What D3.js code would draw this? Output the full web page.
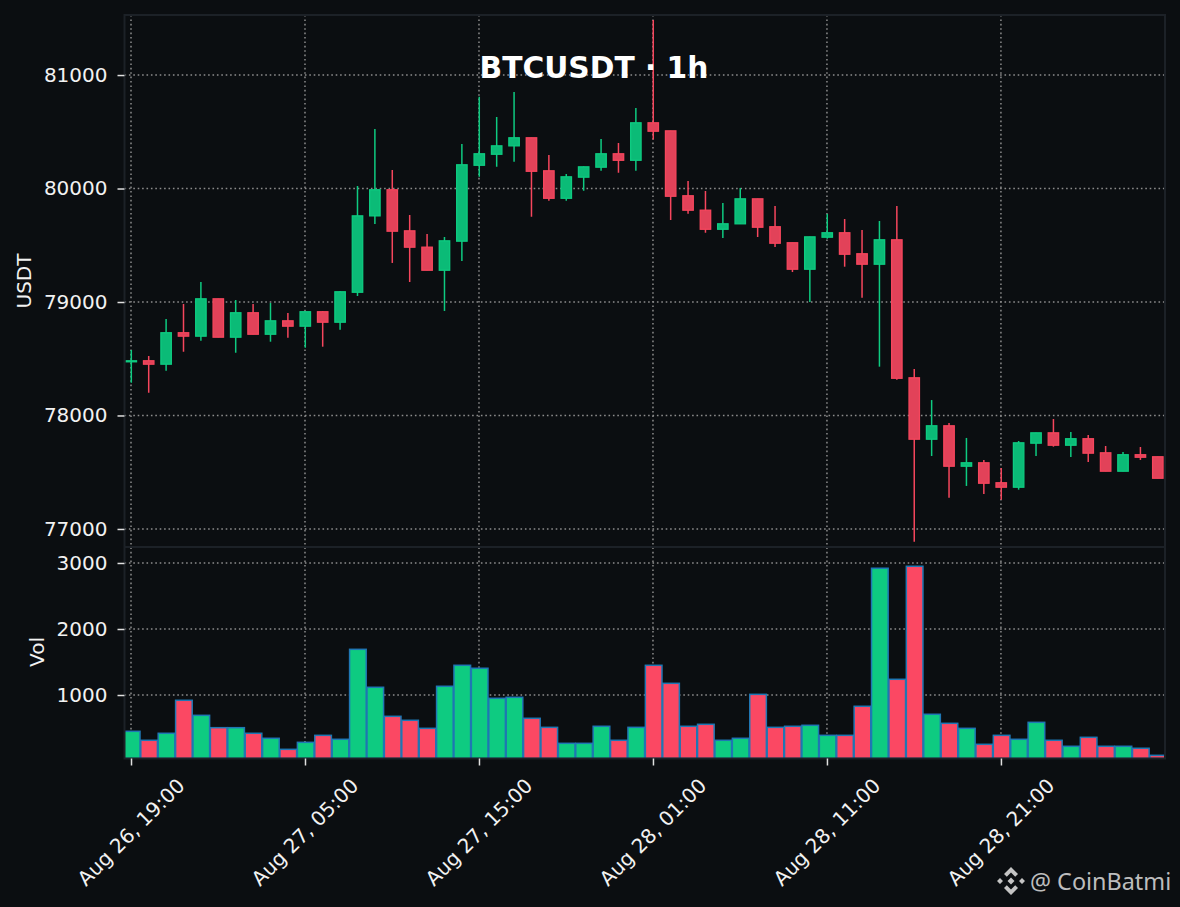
<!DOCTYPE html>
<html><head><meta charset="utf-8">
<script src="https://cdnjs.cloudflare.com/ajax/libs/d3/7.8.5/d3.min.js"></script>
<style>html,body{margin:0;padding:0;background:#0b0e11}svg{display:block}text{font-family:"DejaVu Sans",sans-serif}</style>
</head><body><svg id="c" width="1180" height="907"></svg>
<script>
const opens=[78473,78482,78452,78729,78699,79028,78690,78905,78716,78834,78787,78914,78822,79086,79759,79989,79627,79483,79280,79536,80205,80302,80376,80447,80156,79914,80100,80188,80306,80249,80579,80508,79936,79809,79641,79689,79909,79663,79522,79289,79571,79610,79425,79333,79548,78332,77791,77909,77553,77583,77407,77368,77756,77847,77738,77795,77671,77509,77654,77636];
const highs=[78577,78524,78850,78982,79176,79028,79018,78982,78991,78903,78914,78920,79095,80022,80524,80163,79766,79599,79573,80392,80809,80630,80850,80447,80295,80128,80195,80436,80401,80709,81485,80508,80066,79978,79872,80004,79909,79846,79522,79574,79775,79731,79634,79714,79846,78410,78136,77934,77802,77608,77537,77775,77847,77969,77854,77828,77731,77678,77722,77636];
const lows=[78289,78201,78395,78562,78659,78690,78553,78716,78650,78685,78597,78606,78756,79053,79687,79344,79176,79280,78921,79361,80104,80192,80236,79751,79892,79892,79981,80157,80139,80157,80433,79722,79778,79611,79564,79689,79573,79485,79264,79000,79558,79311,79038,78430,78315,76888,77643,77276,77379,77308,77258,77346,77643,77725,77634,77590,77509,77509,77608,77447];
const closes=[78482,78452,78729,78699,79028,78690,78905,78716,78834,78787,78914,78822,79090,79759,79989,79624,79483,79280,79539,80209,80306,80376,80447,80152,79914,80103,80191,80306,80249,80579,80505,79932,79809,79641,79689,79909,79659,79518,79289,79574,79610,79421,79333,79548,78328,77791,77909,77553,77583,77403,77368,77759,77847,77738,77795,77668,77509,77654,77632,77447];
const volumes=[450,314,420,920,692,505,505,420,344,177,283,389,329,1692,1117,677,617,495,1132,1450,1405,950,965,647,510,268,268,526,314,510,1450,1177,526,556,314,344,1010,510,526,541,389,389,829,2920,1238,2950,708,571,495,253,389,329,586,314,223,359,223,223,193,86];
const xTickIndex=[0,10,20,30,40,50];
const xTickLabels=["Aug 26, 19:00","Aug 27, 05:00","Aug 27, 15:00","Aug 28, 01:00","Aug 28, 11:00","Aug 28, 21:00"];
const priceTicks=[77000,78000,79000,80000,81000];
const volTicks=[1000,2000,3000];

const GREEN="#0ecb81",RED="#f6465d",SPINE="#1c2127",GRID="#8c8c8c",INK="#f2f2f2";
const L=124.5,R=1165,T=15,M=547,B=758.5;
const svg=d3.select("#c");
svg.append("rect").attr("width",1180).attr("height",907).attr("fill","#0b0e11");
const x=d3.scaleLinear().domain([-0.374,59.43]).range([L,R]);
const y=d3.scaleLinear().domain([76841,81529]).range([M,T]);
const yv=d3.scaleLinear().domain([38,3242]).range([B,M]);
const defs=svg.append("defs");
defs.append("clipPath").attr("id","cp").append("rect").attr("x",L).attr("y",T).attr("width",R-L).attr("height",M-T);
defs.append("clipPath").attr("id","cv").append("rect").attr("x",L).attr("y",M).attr("width",R-L).attr("height",B-M);
const dash="1.6 2.8";
const grid=svg.append("g").attr("stroke",GRID).attr("stroke-width",1.5).attr("stroke-dasharray",dash).attr("fill","none");
grid.selectAll(".gp").data(priceTicks).join("line").attr("x1",L).attr("x2",R).attr("y1",d=>y(d)).attr("y2",d=>y(d));
grid.selectAll(".gv").data(volTicks).join("line").attr("class","gv").attr("x1",L).attr("x2",R).attr("y1",d=>yv(d)).attr("y2",d=>yv(d));
grid.selectAll(".gx").data(xTickIndex).join("line").attr("class","gx").attr("x1",d=>x(d)).attr("x2",d=>x(d)).attr("y1",T).attr("y2",B);

const idx=d3.range(opens.length);
const gp=svg.append("g").attr("clip-path","url(#cp)");
const col=i=>closes[i]>=opens[i]?GREEN:RED;
gp.selectAll(".w").data(idx).join("line").attr("x1",i=>x(i)+0.3).attr("x2",i=>x(i)+0.3).attr("y1",i=>y(highs[i])).attr("y2",i=>y(lows[i])).attr("stroke",col).attr("stroke-width",1.5);
const bw=x(0.6)-x(0);
gp.selectAll(".b").data(idx).join("rect").attr("x",i=>x(i)+0.3-bw*0.5).attr("width",bw)
  .attr("y",i=>y(Math.max(opens[i],closes[i]))).attr("height",i=>Math.abs(y(opens[i])-y(closes[i])))
  .attr("fill",i=>closes[i]>=opens[i]?"#0bbb77":"#e24259").attr("stroke",col).attr("stroke-width",1.3);

const gv=svg.append("g").attr("clip-path","url(#cv)");
const vw=x(0.955)-x(0);
gv.selectAll("rect").data(idx).join("rect").attr("x",i=>x(i)+0.7-vw/2).attr("width",vw)
  .attr("y",i=>yv(volumes[i])).attr("height",i=>B-yv(volumes[i]))
  .attr("fill",i=>closes[i]>=opens[i]?"#0ecb81":"#fb4863").attr("stroke","#1f77b4").attr("stroke-width",1.5);

// spines
const sp=svg.append("g").attr("fill","none").attr("stroke",SPINE).attr("stroke-width",2);
sp.append("rect").attr("x",L).attr("y",T).attr("width",R-L).attr("height",B-T);
sp.append("line").attr("x1",L).attr("x2",R).attr("y1",M).attr("y2",M);

// axes
function style(g){g.select(".domain").remove();g.selectAll("line").attr("stroke","#e0e0e0").attr("stroke-width",1.5);g.selectAll("text").attr("fill",INK).style("font-size","20px").style("font-family",'"DejaVu Sans"');}
svg.append("g").attr("transform",`translate(${L},0)`).call(d3.axisLeft(y).tickValues(priceTicks).tickFormat(d3.format("d")).tickSize(7).tickPadding(10)).call(style);
svg.append("g").attr("transform",`translate(${L},0)`).call(d3.axisLeft(yv).tickValues(volTicks).tickFormat(d3.format("d")).tickSize(7).tickPadding(10)).call(style);
const xa=svg.append("g").attr("transform",`translate(0,${B})`).call(d3.axisBottom(x).tickValues(xTickIndex).tickFormat((d,i)=>xTickLabels[i]).tickSize(7)).call(style);
xa.selectAll("text").attr("dy",null).attr("y",null).attr("text-anchor","middle").attr("dominant-baseline","central")
  .attr("transform","translate(-0.5,73.5) rotate(-45)");

svg.append("text").attr("transform","translate(31,281) rotate(-90)").attr("text-anchor","middle").attr("fill",INK).style("font-size","20px").text("USDT");
svg.append("text").attr("transform","translate(44,652) rotate(-90)").attr("text-anchor","middle").attr("fill",INK).style("font-size","20px").text("Vol");
svg.append("text").attr("x",594).attr("y",78).attr("text-anchor","middle").attr("fill","#ffffff").style("font-size","29.7px").style("font-weight","bold").text("BTCUSDT · 1h");

// watermark
const wm=svg.append("g").attr("transform","translate(1011,881)").attr("fill","#c4c4c4");
wm.append("path").attr("d","M0-14L7-7L4.2-4.2L0-8.4L-4.2-4.2L-7-7Z M0,14L7,7L4.2,4.2L0,8.4L-4.2,4.2L-7,7Z M-14,0L-11,-3L-8,0L-11,3Z M14,0L11,-3L8,0L11,3Z M0-3.5L3.5,0L0,3.5L-3.5,0Z");
svg.append("text").attr("x",1030).attr("y",890).attr("fill","#bdbdbd").style("font-family",'"Noto Sans"').style("font-size","23.4px").text("@ CoinBatmi");
</script></body></html>
